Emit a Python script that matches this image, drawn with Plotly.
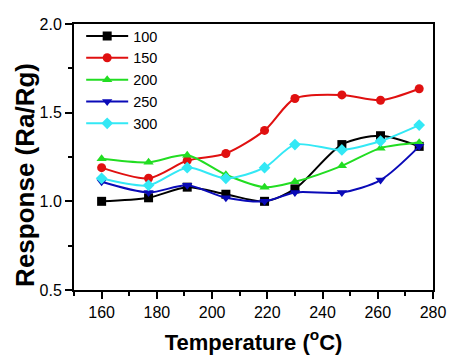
import plotly.graph_objects as go

temperature = [160, 177, 191, 205, 219, 230, 247, 261, 275]
series_names = ["100", "150", "200", "250", "300"]
resp_100 = [1.00, 1.02, 1.08, 1.04, 1.00, 1.07, 1.32, 1.37, 1.31]
resp_150 = [1.19, 1.13, 1.23, 1.27, 1.40, 1.58, 1.60, 1.57, 1.635]
resp_200 = [1.24, 1.22, 1.26, 1.15, 1.08, 1.11, 1.20, 1.30, 1.33]
resp_250 = [1.11, 1.05, 1.09, 1.02, 1.00, 1.05, 1.05, 1.12, 1.31]
resp_300 = [1.13, 1.09, 1.19, 1.13, 1.19, 1.32, 1.29, 1.34, 1.43]

values = [resp_100, resp_150, resp_200, resp_250, resp_300]
colors = ["#000000", "#E01010", "#22DD22", "#0A0AB8", "#33E8F5"]
symbols = ["square", "circle", "triangle-up", "triangle-down", "diamond"]

FONT = "Liberation Sans, Arial"

fig = go.Figure()
for name, vals, c, s in zip(series_names, values, colors, symbols):
    fig.add_trace(go.Scatter(
        x=temperature, y=vals, name=name, mode="lines+markers",
        line=dict(color=c, width=2, shape="spline", smoothing=0.8),
        marker=dict(color=c, symbol=s, size=9),
    ))

axis_common = dict(
    showline=True, linecolor="black", linewidth=2, mirror=True,
    ticks="outside", ticklen=7, tickwidth=1.5, tickcolor="black",
    showgrid=False, zeroline=False, automargin=False,
    tickfont=dict(family=FONT, size=16, color="black"),
)

fig.update_xaxes(
    range=[150, 280], tickvals=[160, 180, 200, 220, 240, 260, 280],
    minor=dict(ticks="outside", dtick=10, ticklen=4, tickcolor="black", tickwidth=1.5),
    title=dict(text="<b>Temperature (<sup>o</sup>C)</b>",
               font=dict(family=FONT, size=22, color="black"),
               standoff=14),
    **axis_common,
)
fig.update_yaxes(
    range=[0.5, 2.0], tickvals=[0.5, 1.0, 1.5, 2.0], ticktext=["0.5", "1.0", "1.5", "2.0"],
    minor=dict(ticks="outside", dtick=0.25, ticklen=4, tickcolor="black", tickwidth=1.5),
    **axis_common,
)

fig.add_annotation(
    text="<b>Response (Ra/Rg)</b>", textangle=-90, showarrow=False,
    xref="paper", yref="paper", x=-0.135, y=0.431, xanchor="center", yanchor="middle",
    font=dict(family=FONT, size=26, color="black"),
)

fig.update_layout(
    width=458, height=347,
    margin=dict(l=66, r=33, t=13, b=65),
    plot_bgcolor="white", paper_bgcolor="white",
    showlegend=True,
    legend=dict(x=0.02, y=1.015, xanchor="left", yanchor="top",
                bgcolor="rgba(0,0,0,0)", itemwidth=42, tracegroupgap=0,
                font=dict(family=FONT, size=14.5, color="black")),
)

fig.write_html("out.html")
